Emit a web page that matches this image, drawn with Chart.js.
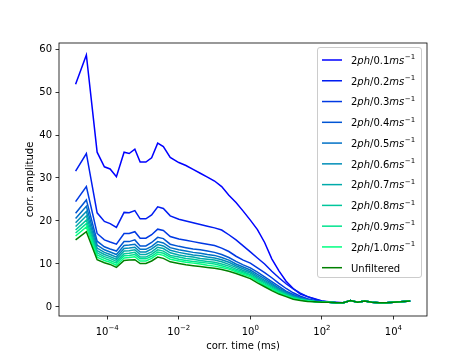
<!DOCTYPE html>
<html><head><meta charset="utf-8">
<script src="https://cdn.jsdelivr.net/npm/chart.js@4/dist/chart.umd.min.js"></script>
<style>html,body{margin:0;padding:0;background:#fff}canvas{display:block}</style>
</head><body>
<canvas id="c" width="474" height="355"></canvas>
<script>
// ---- data ----
const times = [1.3e-5, 2.6e-5, 5.2e-5, 8.3e-5, 1.2e-4, 1.8e-4, 2.95e-4, 4.1e-4, 5.9e-4, 8.3e-4,
  1.2e-3, 1.74e-3, 2.57e-3, 3.7e-3, 5.75e-3, 0.01, 0.0158, 0.0251, 0.0398, 0.0631,
  0.1, 0.158, 0.251, 0.398, 0.631, 1, 1.58, 2.51, 3.98, 6.31,
  10, 15.8, 25.1, 39.8, 63.1, 100, 158, 251, 398, 631,
  1000, 1580, 2510, 3980, 6310, 10000, 15800, 29500];

const speeds = ['0.1', '0.2', '0.3', '0.4', '0.5', '0.6', '0.7', '0.8', '0.9', '1.0'];
const unfilteredLabel = 'Unfiltered';

const s01 = [51.8, 58.6, 36.0, 32.6, 32.1, 30.3, 36.0, 35.7, 36.7, 33.7, 33.7, 34.7, 38.1, 37.3, 34.8, 33.6, 32.9, 32.0, 31.1, 30.2, 29.3, 28.0, 26.0, 24.3, 22.3, 20.2, 18.0, 15.0, 11.2, 8.4, 6.0, 4.3, 3.0, 2.4, 1.9, 1.4, 1.2, 1.1, 1.0, 1.5, 1.1, 1.4, 1.1, 1.0, 1.0, 1.1, 1.2, 1.4];
const s02 = [31.6, 35.7, 21.9, 19.9, 19.4, 18.5, 22.0, 21.9, 22.4, 20.5, 20.5, 21.4, 23.3, 22.9, 21.2, 20.4, 20.0, 19.6, 19.2, 18.8, 18.4, 17.9, 16.8, 15.6, 14.2, 12.8, 11.4, 10.0, 8.3, 6.8, 5.4, 4.2, 3.2, 2.4, 1.8, 1.4, 1.1, 1.0, 1.0, 1.5, 1.1, 1.4, 1.1, 1.0, 1.0, 1.1, 1.2, 1.4];
const s03 = [24.5, 28.0, 17.1, 15.6, 15.1, 14.6, 17.1, 17.1, 17.5, 16.0, 16.0, 16.8, 18.1, 17.8, 16.4, 15.8, 15.5, 15.2, 14.9, 14.6, 14.3, 13.7, 12.9, 11.8, 10.9, 10.2, 9.1, 8.0, 6.8, 5.5, 4.3, 3.3, 2.5, 1.9, 1.5, 1.3, 1.1, 1.0, 1.0, 1.5, 1.1, 1.4, 1.1, 1.0, 1.0, 1.1, 1.2, 1.4];
const s04 = [21.8, 24.9, 15.3, 14.0, 13.5, 13.0, 15.2, 15.2, 15.6, 14.2, 14.2, 15.0, 16.2, 15.9, 14.6, 14.1, 13.8, 13.5, 13.3, 13.0, 12.7, 12.2, 11.5, 10.6, 9.8, 9.1, 8.1, 7.0, 5.9, 4.8, 3.7, 2.9, 2.2, 1.7, 1.4, 1.2, 1.1, 1.0, 1.0, 1.5, 1.1, 1.4, 1.1, 1.0, 1.0, 1.1, 1.2, 1.4];
const s05 = [20.6, 23.4, 14.4, 13.3, 12.8, 12.2, 14.3, 14.4, 14.6, 13.4, 13.4, 14.1, 15.2, 14.9, 13.8, 13.3, 13.0, 12.7, 12.5, 12.2, 12.0, 11.5, 10.9, 10.0, 9.3, 8.6, 7.6, 6.6, 5.5, 4.4, 3.5, 2.6, 2.1, 1.6, 1.4, 1.2, 1.1, 1.0, 1.0, 1.5, 1.1, 1.4, 1.1, 1.0, 1.0, 1.1, 1.2, 1.4];
const s06 = [19.6, 22.2, 13.7, 12.7, 12.2, 11.6, 13.6, 13.7, 13.9, 12.8, 12.8, 13.5, 14.5, 14.2, 13.2, 12.7, 12.4, 12.1, 11.9, 11.6, 11.4, 11.0, 10.4, 9.6, 8.9, 8.2, 7.2, 6.2, 5.2, 4.1, 3.3, 2.5, 2.0, 1.6, 1.3, 1.2, 1.1, 1.0, 1.0, 1.5, 1.1, 1.4, 1.1, 1.0, 1.0, 1.1, 1.2, 1.4];
const s07 = [18.7, 21.2, 13.1, 12.2, 11.7, 11.1, 13.0, 13.1, 13.3, 12.2, 12.2, 12.8, 13.9, 13.6, 12.6, 12.1, 11.8, 11.6, 11.3, 11.1, 10.9, 10.5, 9.9, 9.2, 8.5, 7.9, 6.8, 5.9, 4.9, 3.9, 3.1, 2.3, 1.9, 1.5, 1.3, 1.2, 1.1, 1.0, 1.0, 1.5, 1.1, 1.4, 1.1, 1.0, 1.0, 1.1, 1.2, 1.4];
const s08 = [17.9, 20.2, 12.6, 11.7, 11.3, 10.6, 12.4, 12.5, 12.7, 11.6, 11.6, 12.3, 13.3, 13.0, 12.0, 11.6, 11.3, 11.1, 10.8, 10.6, 10.4, 10.0, 9.5, 8.8, 8.2, 7.5, 6.5, 5.6, 4.6, 3.7, 2.9, 2.2, 1.8, 1.5, 1.3, 1.2, 1.1, 1.0, 1.0, 1.5, 1.1, 1.4, 1.1, 1.0, 1.0, 1.1, 1.2, 1.4];
const s09 = [17.2, 19.4, 12.1, 11.3, 10.8, 10.2, 11.9, 12.0, 12.2, 11.2, 11.2, 11.8, 12.8, 12.5, 11.6, 11.1, 10.8, 10.6, 10.4, 10.2, 10.0, 9.6, 9.1, 8.5, 7.9, 7.3, 6.2, 5.3, 4.3, 3.5, 2.7, 2.1, 1.7, 1.4, 1.3, 1.1, 1.1, 1.0, 1.0, 1.5, 1.1, 1.4, 1.1, 1.0, 1.0, 1.1, 1.2, 1.4];
const s10 = [16.5, 18.6, 11.6, 10.8, 10.4, 9.7, 11.4, 11.5, 11.7, 10.7, 10.7, 11.3, 12.3, 12.0, 11.1, 10.7, 10.4, 10.2, 10.0, 9.7, 9.5, 9.2, 8.8, 8.2, 7.6, 7.0, 6.0, 5.0, 4.1, 3.3, 2.6, 2.0, 1.6, 1.4, 1.2, 1.1, 1.1, 1.0, 1.0, 1.5, 1.1, 1.4, 1.1, 1.0, 1.0, 1.1, 1.2, 1.4];
const unfiltered = [15.6, 17.5, 11.0, 10.3, 9.9, 9.2, 10.8, 10.9, 11.0, 10.1, 10.1, 10.7, 11.6, 11.3, 10.5, 10.1, 9.8, 9.6, 9.4, 9.2, 9.0, 8.7, 8.3, 7.8, 7.2, 6.6, 5.6, 4.7, 3.8, 3.0, 2.4, 1.8, 1.5, 1.3, 1.2, 1.1, 1.1, 1.0, 1.0, 1.5, 1.1, 1.4, 1.1, 1.0, 1.0, 1.1, 1.2, 1.4];

const yTicks = [0, 10, 20, 30, 40, 50, 60];
const xTicks = [1e-4, 1e-2, 1, 1e2, 1e4];
const xTickExponents = ['\u22124', '\u22122', '0', '2', '4'];
const xTitle = 'corr. time (ms)';
const yTitle = 'corr. amplitude';

// ---- styles ----
const seriesColors = ['#0000ff', '#001cf1', '#0039e3', '#0055d4', '#0071c6', '#008eb8', '#00aaaa', '#00c69c', '#00e38e', '#00ff80'];
const unfilteredColor = '#008000';
const FONT = '"DejaVu Sans", sans-serif';

const filtered = [s01, s02, s03, s04, s05, s06, s07, s08, s09, s10];
const datasets = filtered.map((vals, i) => ({
  label: '2ph/' + speeds[i] + 'ms\u207B\u00B9',
  data: times.map((t, j) => ({ x: t, y: vals[j] })),
  borderColor: seriesColors[i], borderWidth: 1.5, pointRadius: 0, fill: false, tension: 0,
  order: filtered.length - i
}));
datasets.push({
  label: unfilteredLabel,
  data: times.map((t, j) => ({ x: t, y: unfiltered[j] })),
  borderColor: unfilteredColor, borderWidth: 1.5, pointRadius: 0, fill: false, tension: 0, order: 0
});

const deco = {
  id: 'deco',
  beforeDraw(chart) {
    const c = chart.ctx;
    c.save(); c.fillStyle = '#fff'; c.fillRect(0, 0, chart.width, chart.height); c.restore();
  },
  afterDatasetsDraw(chart) {
    const c = chart.ctx, a = chart.chartArea, xs = chart.scales.x;
    c.save();
    // frame
    c.strokeStyle = '#000'; c.lineWidth = 0.8;
    c.strokeRect(a.left, a.top, a.right - a.left, a.bottom - a.top);
    // x tick labels (10^n)
    c.fillStyle = '#000'; c.textBaseline = 'alphabetic'; c.textAlign = 'left';
    xTicks.forEach((v, i) => {
      const px = xs.getPixelForValue(v);
      c.font = '10px ' + FONT; const w1 = c.measureText('10').width;
      c.font = '7px ' + FONT; const w2 = c.measureText(xTickExponents[i]).width;
      const x0 = px - (w1 + w2) / 2;
      c.font = '10px ' + FONT; c.fillText('10', x0, a.bottom + 18.5);
      c.font = '7px ' + FONT; c.fillText(xTickExponents[i], x0 + w1, a.bottom + 14);
    });
    // axis titles
    c.font = '10px ' + FONT; c.textAlign = 'center';
    c.fillText(xTitle, (a.left + a.right) / 2, 348.5);
    c.save(); c.translate(33, (a.top + a.bottom) / 2); c.rotate(-Math.PI / 2);
    c.fillText(yTitle, 0, 0); c.restore();
    // legend
    const lx = 317.5, ly = 47.5, lw = 104, lh = 230, r = 2.5;
    c.beginPath();
    c.moveTo(lx + r, ly); c.lineTo(lx + lw - r, ly); c.arcTo(lx + lw, ly, lx + lw, ly + r, r);
    c.lineTo(lx + lw, ly + lh - r); c.arcTo(lx + lw, ly + lh, lx + lw - r, ly + lh, r);
    c.lineTo(lx + r, ly + lh); c.arcTo(lx, ly + lh, lx, ly + lh - r, r);
    c.lineTo(lx, ly + r); c.arcTo(lx, ly, lx + r, ly, r); c.closePath();
    c.fillStyle = 'rgba(255,255,255,0.8)'; c.fill();
    c.strokeStyle = '#cccccc'; c.lineWidth = 1; c.stroke();
    c.textAlign = 'left';
    chart.data.datasets.forEach((ds, i) => {
      const y = 60 + i * 20.77;
      c.strokeStyle = ds.borderColor; c.lineWidth = 1.5;
      c.beginPath(); c.moveTo(322, y); c.lineTo(342, y); c.stroke();
      c.fillStyle = '#000';
      let x = 351; const base = y + 3.8;
      const parts = i < speeds.length
        ? [['2', ''], ['ph', 'italic '], ['/' + speeds[i], ''], ['ms', 'italic '], ['\u22121', 'sup']]
        : [[ds.label, '']];
      parts.forEach(([t, st]) => {
        if (st === 'sup') { c.font = '7px ' + FONT; c.fillText(t, x + 0.5, base - 4.5); x += c.measureText(t).width; }
        else { c.font = st + '10px ' + FONT; c.fillText(t, x, base); x += c.measureText(t).width; }
      });
    });
    c.restore();
  }
};

const gridOpts = { display: true, drawOnChartArea: false, drawTicks: true, tickLength: 3.5, tickWidth: 0.8, tickColor: '#000' };

new Chart(document.getElementById('c'), {
  type: 'line',
  data: { datasets },
  options: {
    responsive: false, animation: false, devicePixelRatio: 1,
    layout: { padding: { left: 0, right: 47, top: 43, bottom: 0 } },
    plugins: { legend: { display: false }, tooltip: { enabled: false } },
    scales: {
      x: {
        type: 'logarithmic', min: Math.pow(10, -5.35), max: Math.pow(10, 4.94),
        afterBuildTicks: s => { s.ticks = xTicks.map(v => ({ value: v })); },
        afterFit: s => { s.height = 39; },
        ticks: { display: false },
        grid: gridOpts, border: { display: false }
      },
      y: {
        type: 'linear', min: -2.1, max: 61.4,
        afterBuildTicks: s => { s.ticks = yTicks.map(v => ({ value: v })); },
        afterFit: s => { s.width = 59; },
        ticks: { font: { family: FONT, size: 10 }, color: '#000', padding: 3.5, autoSkip: false, callback: v => String(v) },
        grid: gridOpts, border: { display: false }
      }
    }
  },
  plugins: [deco]
});
</script>
</body></html>
